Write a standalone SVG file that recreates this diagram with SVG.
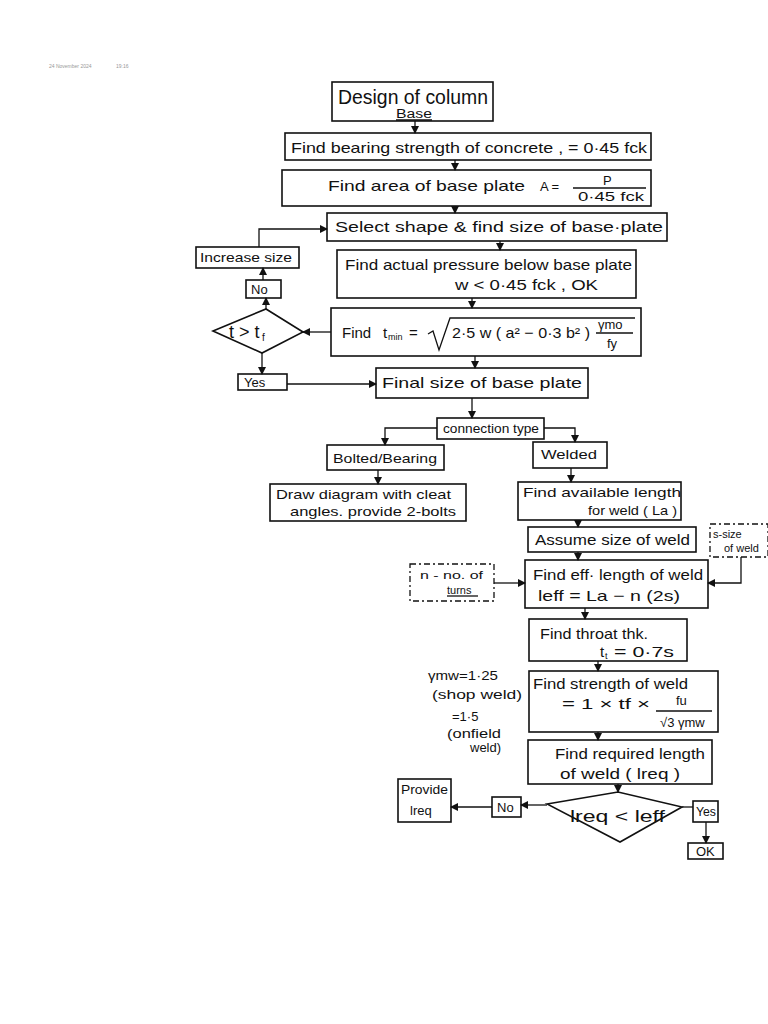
<svg xmlns="http://www.w3.org/2000/svg" width="768" height="1024" viewBox="0 0 768 1024">
<style>
.b{fill:none;stroke:#111;stroke-width:1.6}
.d{fill:none;stroke:#111;stroke-width:1.3;stroke-dasharray:6 3 2 3}
.c{fill:none;stroke:#111;stroke-width:1.3}
text{font-family:"Liberation Sans",Arial,sans-serif;fill:#111}
.t{font-size:15px}
.s{font-size:13px}
.x{font-size:11px}
.sub{font-size:9px}
.date{font-size:5px;fill:#999}
</style>
<defs>
<marker id="ah" markerWidth="8" markerHeight="8" refX="7" refY="4" orient="auto" markerUnits="userSpaceOnUse">
<path d="M0,0 L8,4 L0,8 Z" fill="#111"/>
</marker>
</defs>
<rect width="768" height="1024" fill="#fff"/>
<text class="date" x="49" y="68">24 November 2024</text>
<text class="date" x="116" y="68">19:16</text>

<g id="n-title">
<rect class="b" x="332" y="82" width="161" height="39"/>
<text x="338" y="104" font-size="20" textLength="150" lengthAdjust="spacingAndGlyphs">Design of column</text>
<text x="396" y="118" font-size="12" textLength="36" lengthAdjust="spacingAndGlyphs">Base</text>
<line class="c" x1="396" y1="120" x2="432" y2="120" stroke-width="0.8"/>
</g>

<g id="n-bearing">
<rect class="b" x="285" y="133" width="366" height="27"/>
<text class="t" x="291" y="153" textLength="356" lengthAdjust="spacingAndGlyphs">Find bearing strength of concrete , = 0·45 fck</text>
</g>

<g id="n-area">
<rect class="b" x="282" y="170" width="369" height="36"/>
<text class="t" x="328" y="191" textLength="197" lengthAdjust="spacingAndGlyphs">Find area of base plate</text>
<text class="s" x="540" y="191">A =</text>
<text class="s" x="603" y="185">P</text>
<line class="c" x1="573" y1="188" x2="646" y2="188" stroke-width="1"/>
<text class="s" x="578" y="201" textLength="66" lengthAdjust="spacingAndGlyphs">0·45 fck</text>
</g>

<g id="n-select">
<rect class="b" x="327" y="213" width="340" height="28"/>
<text class="t" x="335" y="232" textLength="328" lengthAdjust="spacingAndGlyphs">Select shape &amp; find size of base·plate</text>
</g>

<g id="n-pressure">
<rect class="b" x="337" y="250" width="299" height="48"/>
<text class="t" x="345" y="270" textLength="287" lengthAdjust="spacingAndGlyphs">Find actual pressure below base plate</text>
<text class="t" x="455" y="290" textLength="143" lengthAdjust="spacingAndGlyphs">w &lt; 0·45 fck , OK</text>
</g>

<g id="n-tmin">
<rect class="b" x="331" y="308" width="310" height="48"/>
<text class="t" x="342" y="338">Find</text>
<text class="t" x="383" y="338">t</text>
<text class="sub" x="388" y="340">min</text>
<text class="t" x="409" y="338">=</text>
<path class="c" d="M428,334 L433,331 L439,350 L450,318 L635,318"/>
<text class="t" x="452" y="338" textLength="138" lengthAdjust="spacingAndGlyphs">2·5 w ( a² − 0·3 b² )</text>
<text class="s" x="598" y="329">γmo</text>
<line class="c" x1="596" y1="333" x2="633" y2="333" stroke-width="1"/>
<text class="s" x="607" y="348">fy</text>
</g>

<g id="n-check-t">
<polygon class="b" points="213,331 266,309 303,332 262,353"/>
<text x="229" y="338" font-size="18">t &gt; t</text>
<text x="262" y="341" font-size="10">f</text>
</g>

<g id="n-no1">
<rect class="b" x="246" y="280" width="35" height="18"/>
<text class="s" x="251" y="294">No</text>
</g>

<g id="n-increase">
<rect class="b" x="196" y="247" width="103" height="21"/>
<text class="s" x="200" y="262" textLength="92" lengthAdjust="spacingAndGlyphs">Increase size</text>
</g>

<g id="n-yes1">
<rect class="b" x="238" y="374" width="49" height="16"/>
<text class="s" x="244" y="387">Yes</text>
</g>

<g id="n-final">
<rect class="b" x="376" y="368" width="212" height="30"/>
<text class="t" x="382" y="388" textLength="200" lengthAdjust="spacingAndGlyphs">Final size of base plate</text>
</g>

<g id="n-conn">
<rect class="b" x="437" y="418" width="107" height="21"/>
<text class="s" x="443" y="433" textLength="96" lengthAdjust="spacingAndGlyphs">connection type</text>
</g>

<g id="n-bolted">
<rect class="b" x="327" y="445" width="117" height="25"/>
<text class="s" x="333" y="463" textLength="104" lengthAdjust="spacingAndGlyphs">Bolted/Bearing</text>
</g>

<g id="n-welded">
<rect class="b" x="533" y="442" width="74" height="26"/>
<text class="s" x="541" y="459" textLength="56" lengthAdjust="spacingAndGlyphs">Welded</text>
</g>

<g id="n-draw">
<rect class="b" x="270" y="484" width="196" height="37"/>
<text class="s" x="276" y="499" textLength="175" lengthAdjust="spacingAndGlyphs">Draw diagram with cleat</text>
<text class="s" x="290" y="516" textLength="166" lengthAdjust="spacingAndGlyphs">angles. provide 2-bolts</text>
</g>

<g id="n-avail">
<rect class="b" x="518" y="482" width="163" height="38"/>
<text class="s" x="523" y="497" textLength="158" lengthAdjust="spacingAndGlyphs">Find available length</text>
<text class="s" x="588" y="515" textLength="89" lengthAdjust="spacingAndGlyphs">for weld ( La )</text>
</g>

<g id="n-assume">
<rect class="b" x="528" y="527" width="168" height="25"/>
<text class="t" x="535" y="545" textLength="155" lengthAdjust="spacingAndGlyphs">Assume size of weld</text>
</g>

<g id="n-ssize">
<rect class="d" x="710" y="524" width="58" height="33"/>
<text class="x" x="713" y="538">s-size</text>
<text class="x" x="724" y="552" font-size="10">of weld</text>
</g>

<g id="n-eff">
<rect class="b" x="525" y="560" width="183" height="48"/>
<text class="t" x="533" y="580" textLength="170" lengthAdjust="spacingAndGlyphs">Find eff· length of weld</text>
<text class="t" x="538" y="601" textLength="142" lengthAdjust="spacingAndGlyphs">leff = La − n (2s)</text>
</g>

<g id="n-turns">
<rect class="d" x="410" y="564" width="84" height="37"/>
<text class="x" x="420" y="579" textLength="63" lengthAdjust="spacingAndGlyphs">n - no. of</text>
<text class="x" x="447" y="594">turns</text>
<line class="c" x1="447" y1="596" x2="478" y2="596" stroke-width="0.8"/>
</g>

<g id="n-throat">
<rect class="b" x="529" y="619" width="158" height="42"/>
<text class="t" x="540" y="639" textLength="108" lengthAdjust="spacingAndGlyphs">Find throat thk.</text>
<text class="t" x="600" y="657">t</text>
<text class="sub" x="605" y="659">t</text>
<text class="t" x="614" y="657" textLength="60" lengthAdjust="spacingAndGlyphs">= 0·7s</text>
</g>

<g id="n-gamma">
<text class="s" x="428" y="680" font-size="14" textLength="70" lengthAdjust="spacingAndGlyphs">γmw=1·25</text>
<text class="s" x="432" y="699" font-size="14" textLength="90" lengthAdjust="spacingAndGlyphs">(shop weld)</text>
<text class="s" x="452" y="721" font-size="14">=1·5</text>
<text class="s" x="447" y="738" font-size="14" textLength="54" lengthAdjust="spacingAndGlyphs">(onfield</text>
<text class="s" x="470" y="752" font-size="14">weld)</text>
</g>

<g id="n-strength">
<rect class="b" x="529" y="671" width="189" height="61"/>
<text class="t" x="533" y="689" textLength="155" lengthAdjust="spacingAndGlyphs">Find strength of weld</text>
<text class="t" x="562" y="709" textLength="88" lengthAdjust="spacingAndGlyphs">= 1 × tf ×</text>
<text class="s" x="676" y="705">fu</text>
<line class="c" x1="656" y1="711" x2="712" y2="711" stroke-width="1"/>
<text class="s" x="660" y="727">√3 γmw</text>
</g>

<g id="n-required">
<rect class="b" x="528" y="740" width="184" height="44"/>
<text class="t" x="555" y="759" textLength="150" lengthAdjust="spacingAndGlyphs">Find required length</text>
<text class="t" x="560" y="779" textLength="120" lengthAdjust="spacingAndGlyphs">of weld ( lreq )</text>
</g>

<g id="n-check-l">
<polygon class="b" points="547,804 618,792 682,807 620,842"/>
<text x="570" y="822" font-size="17" textLength="95" lengthAdjust="spacingAndGlyphs">lreq &lt; leff</text>
</g>

<g id="n-yes2">
<rect class="b" x="693" y="801" width="25" height="21"/>
<text class="s" x="696" y="816" textLength="20" lengthAdjust="spacingAndGlyphs">Yes</text>
</g>

<g id="n-ok">
<rect class="b" x="688" y="843" width="35" height="16"/>
<text class="s" x="696" y="856">OK</text>
</g>

<g id="n-no2">
<rect class="b" x="492" y="797" width="29" height="20"/>
<text class="s" x="497" y="812">No</text>
</g>

<g id="n-provide">
<rect class="b" x="398" y="779" width="53" height="43"/>
<text class="s" x="401" y="794" textLength="47" lengthAdjust="spacingAndGlyphs">Provide</text>
<text class="s" x="410" y="815">lreq</text>
</g>

<g id="connectors">
<path class="c" d="M415,121 V133" marker-end="url(#ah)"/>
<path class="c" d="M455,160 V170" marker-end="url(#ah)"/>
<path class="c" d="M455,206 V213" marker-end="url(#ah)"/>
<path class="c" d="M500,241 V250" marker-end="url(#ah)"/>
<path class="c" d="M472,298 V308" marker-end="url(#ah)"/>
<path class="c" d="M331,332 H303" marker-end="url(#ah)"/>
<path class="c" d="M266,309 V298" marker-end="url(#ah)"/>
<path class="c" d="M263,280 V268" marker-end="url(#ah)"/>
<path class="c" d="M259,247 V229 H327" marker-end="url(#ah)"/>
<path class="c" d="M262,353 V374" marker-end="url(#ah)"/>
<path class="c" d="M287,384 H376" marker-end="url(#ah)"/>
<path class="c" d="M475,356 V368" marker-end="url(#ah)"/>
<path class="c" d="M472,398 V418" marker-end="url(#ah)"/>
<path class="c" d="M437,428 H385 V445" marker-end="url(#ah)"/>
<path class="c" d="M544,428 H575 V442" marker-end="url(#ah)"/>
<path class="c" d="M378,470 V484" marker-end="url(#ah)"/>
<path class="c" d="M571,468 V482" marker-end="url(#ah)"/>
<path class="c" d="M578,520 V527" marker-end="url(#ah)"/>
<path class="c" d="M578,552 V560" marker-end="url(#ah)"/>
<path class="c" d="M741,557 V583 H708" marker-end="url(#ah)"/>
<path class="c" d="M494,583 H525" marker-end="url(#ah)"/>
<path class="c" d="M585,608 V619" marker-end="url(#ah)"/>
<path class="c" d="M598,661 V671" marker-end="url(#ah)"/>
<path class="c" d="M598,732 V740" marker-end="url(#ah)"/>
<path class="c" d="M618,784 V792" marker-end="url(#ah)"/>
<path class="c" d="M547,805 H521" marker-end="url(#ah)"/>
<path class="c" d="M492,807 H451" marker-end="url(#ah)"/>
<path class="c" d="M682,807 H693"/>
<path class="c" d="M706,822 V843" marker-end="url(#ah)"/>
</g>
</svg>
